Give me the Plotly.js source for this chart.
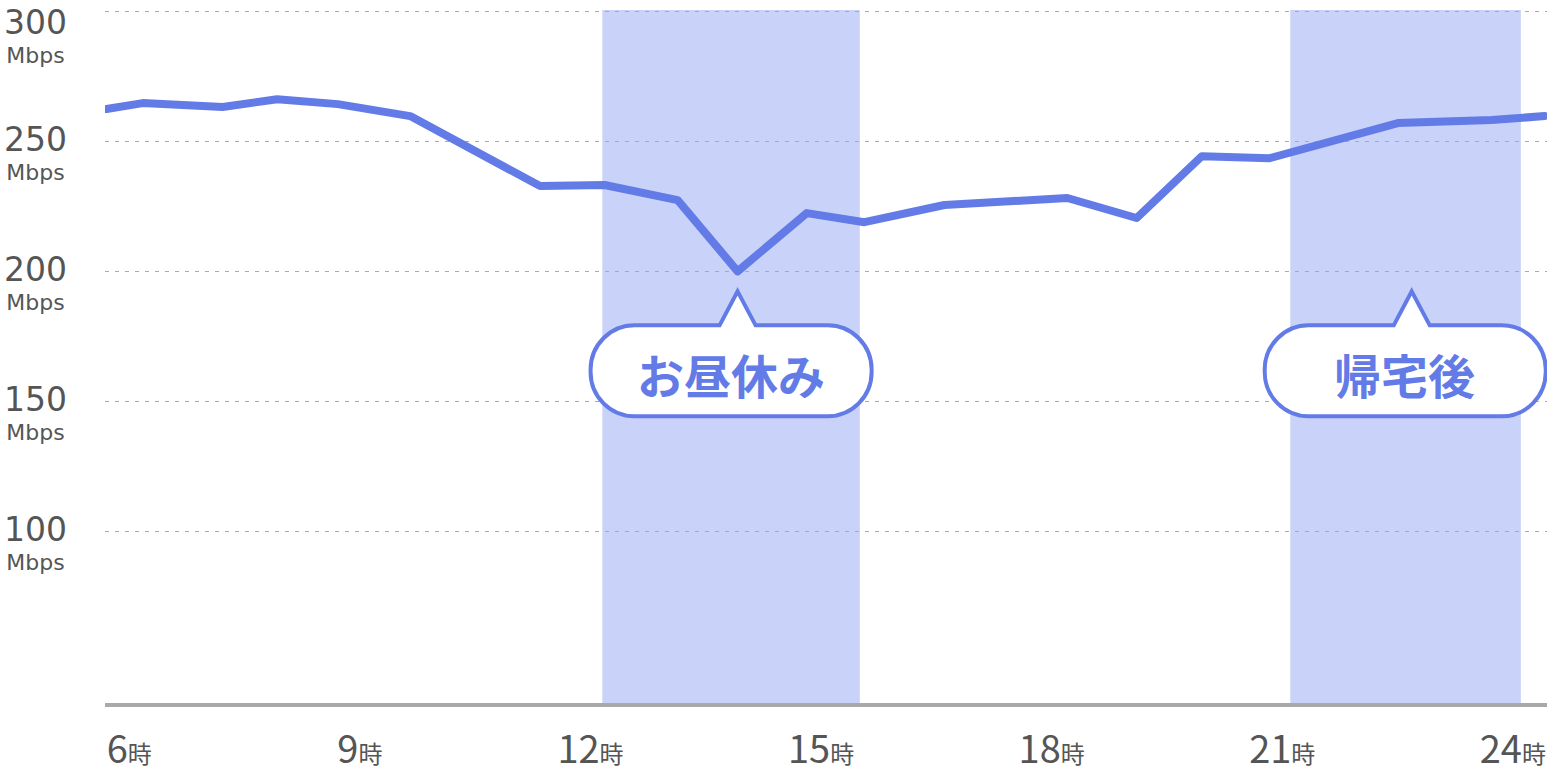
<!DOCTYPE html>
<html>
<head>
<meta charset="utf-8">
<script src="https://cdn.plot.ly/plotly-3.0.1.min.js"></script>
<style>
  body { margin: 0; background: #fff; }
  #chart_area .scatterlayer path.js-line { stroke-linejoin: round; stroke-linecap: round; }
</style>
</head>
<body>
<div id="chart_area" style="width:1550px;height:781px;"></div>
<script>
// hour of day (decimal) and speed in Mbps
var hours  = [5.6, 6.07, 7.11, 7.82, 8.61, 9.55, 11.24, 12.08, 13.03, 13.81, 14.71, 15.46, 16.5, 18.1, 19.0, 19.85, 20.73, 22.4, 23.62, 24.31];
var speeds = [262.4, 264.7, 263.2, 266.2, 264.3, 259.7, 232.8, 233.2, 227.4, 200, 222.4, 218.9, 225.5, 228.2, 220.5, 244.3, 243.5, 257.0, 258.2, 259.7];

// x ticks
var hourTicks = [6, 9, 12, 15, 18, 21, 24];
// y ticks
var speedTicks = [100, 150, 200, 250, 300];

// shaded periods (lunch break, after coming home)
var bandStart = [12.05, 21];
var bandEnd   = [15.4, 24];
var bandLabels = ['お昼休み', '帰宅後'];

var blue = '#637be6';
var grey = '#555555';

var data = [
    {
        x: hours,
        y: speeds,
        type: 'scatter',
        mode: 'lines',
        hoverinfo: 'none',
        cliponaxis: false,
        line: { color: blue, width: 8 }
    }
];

// speech bubble outline, pixels relative to the point it sits under (y up)
function bubblePath() {
    var k = 0.5523, R = 44;
    var xl = -147, xr = 134, yt = -54, yb = -145;
    var p = [];
    p.push('M0,-20', 'L18,' + yt, 'L' + (xr - R) + ',' + yt);
    p.push('C' + (xr - R + k * R) + ',' + yt + ' ' + xr + ',' + (yt - R + k * R) + ' ' + xr + ',' + (yt - R));
    p.push('L' + xr + ',' + (yb + R));
    p.push('C' + xr + ',' + (yb + R - k * R) + ' ' + (xr - R + k * R) + ',' + yb + ' ' + (xr - R) + ',' + yb);
    p.push('L' + (xl + R) + ',' + yb);
    p.push('C' + (xl + R - k * R) + ',' + yb + ' ' + xl + ',' + (yb + R - k * R) + ' ' + xl + ',' + (yb + R));
    p.push('L' + xl + ',' + (yt - R));
    p.push('C' + xl + ',' + (yt - R + k * R) + ' ' + (xl + R - k * R) + ',' + yt + ' ' + (xl + R) + ',' + yt);
    p.push('L-18,' + yt, 'Z');
    return p.join(' ');
}

// bubble 1 points at the lowest speed, bubble 2 at the middle of the evening band
var minIdx = speeds.indexOf(Math.min.apply(null, speeds));
var bubbleX = [hours[minIdx], (bandStart[1] + bandEnd[1]) / 2 + 0.08];
var bubbleY = speeds[minIdx];

var shapes = [];
var annotations = [];

for (var i = 0; i < bandStart.length; i++) {
    shapes.push({
        type: 'rect', layer: 'below',
        xref: 'x', yref: 'paper',
        x0: bandStart[i], x1: bandEnd[i], y0: -0.005, y1: 1,
        fillcolor: '#c9d2f9', line: { width: 0 }
    });
}

for (var j = 0; j < bandLabels.length; j++) {
    shapes.push({
        type: 'path', layer: 'above',
        xref: 'x', yref: 'y',
        xsizemode: 'pixel', ysizemode: 'pixel',
        xanchor: bubbleX[j], yanchor: bubbleY,
        path: bubblePath(),
        fillcolor: '#ffffff',
        line: { color: blue, width: 4 }
    });
    annotations.push({
        xref: 'x', yref: 'y',
        x: bubbleX[j], y: bubbleY,
        xshift: -7, yshift: -102,
        xanchor: 'center', yanchor: 'middle',
        showarrow: false,
        text: '<b>' + bandLabels[j] + '</b>',
        font: { family: 'Noto Sans CJK JP', size: 47, color: blue }
    });
}

// y tick labels: number on the grid line, "Mbps" under it
var yMax = Math.max.apply(null, speedTicks);
speedTicks.forEach(function (v) {
    annotations.push({
        xref: 'paper', yref: 'y', x: -0.0485, y: v,
        xanchor: 'center', yanchor: 'top', yshift: v === yMax ? 10 : 23,
        showarrow: false,
        text: '<span style="font-size:33px">' + v + '</span><br>Mbps',
        font: { family: 'DejaVu Sans', size: 22, color: grey }
    });
});

var layout = {
    width: 1550,
    height: 781,
    margin: { l: 105, r: 3, t: 10, b: 78 },
    showlegend: false,
    paper_bgcolor: '#ffffff',
    plot_bgcolor: '#ffffff',
    xaxis: {
        range: [5.58, 24.34],
        tickvals: hourTicks,
        ticktext: hourTicks.map(function (h) { return h + '<span style="font-size:24px">時</span>'; }),
        ticks: '',
        ticklabelstandoff: 10,
        ticklabelshift: -8,
        ticklabeloverflow: 'allow',
        tickfont: { family: 'Noto Sans CJK JP', size: 38, color: grey },
        showgrid: false,
        zeroline: false,
        showline: true,
        linecolor: '#a9a9a9',
        linewidth: 4
    },
    yaxis: {
        range: [34, 300.5],
        tickvals: speedTicks,
        showticklabels: false,
        ticks: '',
        showgrid: true,
        gridcolor: '#aaaaaa',
        gridwidth: 1.5,
        griddash: '4px,6px',
        zeroline: false
    },
    shapes: shapes,
    annotations: annotations
};

var config = {
    displayModeBar: false,
    staticPlot: true,
    displaylogo: false
};

Plotly.newPlot('chart_area', data, layout, config);
</script>
</body>
</html>
